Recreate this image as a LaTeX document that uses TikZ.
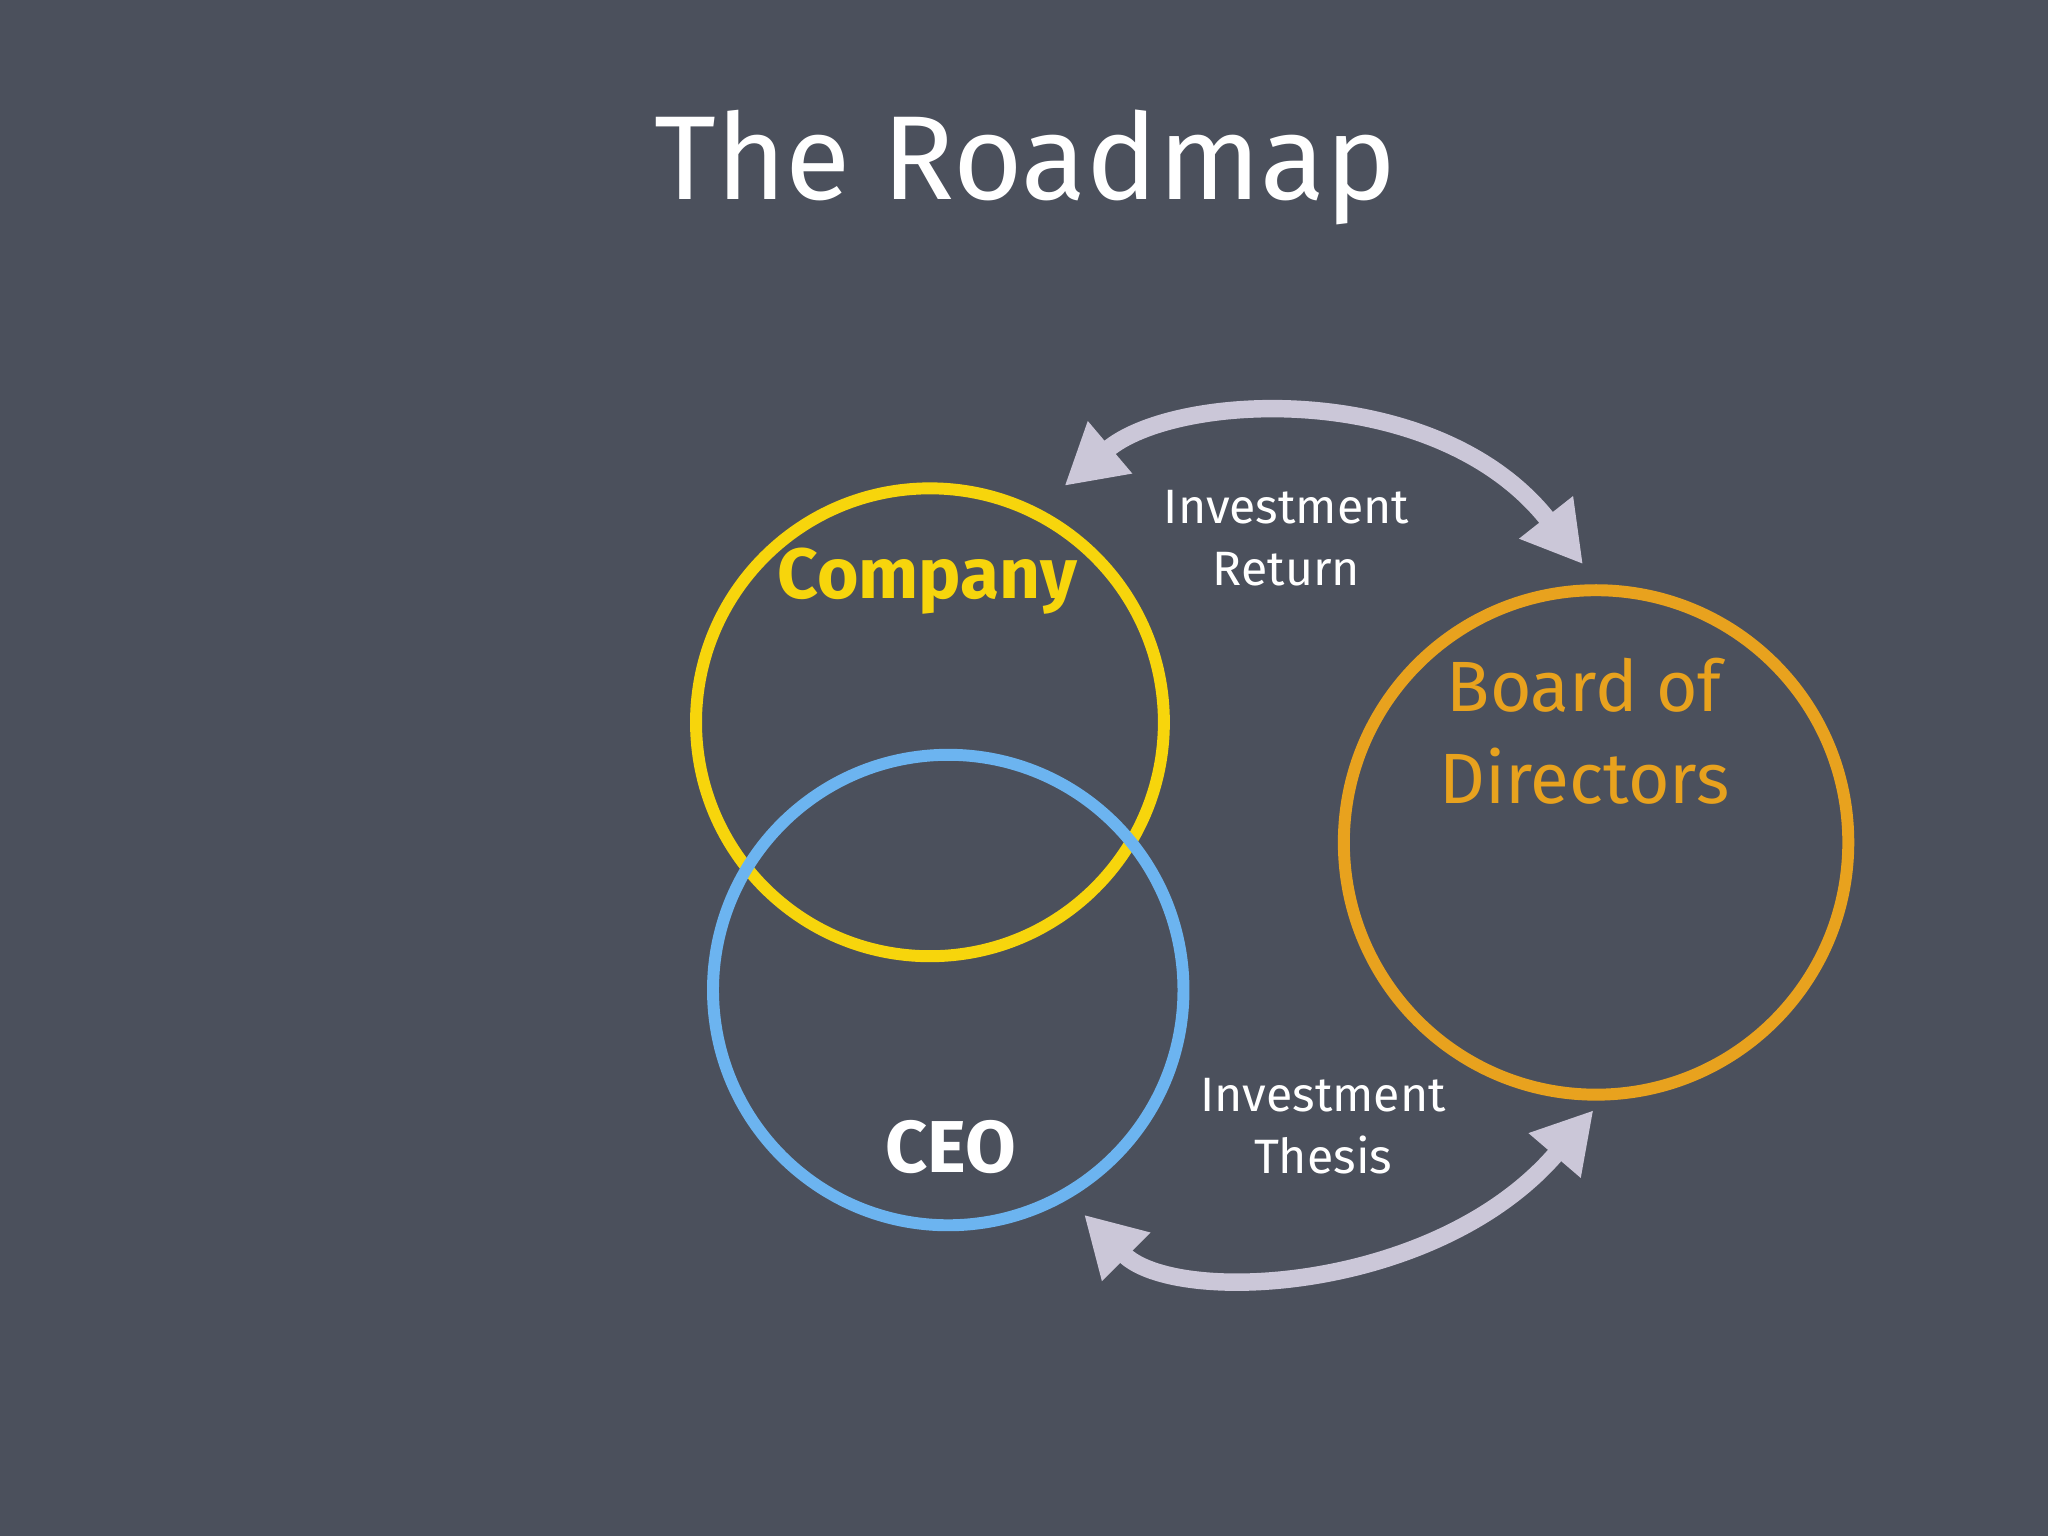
\documentclass[tikz,border=0pt]{standalone}
\usepackage{fontspec}
\setmainfont{Fira Sans}
\usetikzlibrary{arrows.meta}
\definecolor{bg}{HTML}{4B505C}
\definecolor{cyel}{HTML}{F7D50C}
\definecolor{cblue}{HTML}{6CB4F0}
\definecolor{corg}{HTML}{E8A21E}
\definecolor{carr}{HTML}{CBC7D8}
\begin{document}
\begin{tikzpicture}[x=0.01cm,y=-0.01cm,
  ring/.style={draw,line width=2.6pt,circle,inner sep=0pt},
  lab/.style={text=white,font=\fontsize{10.5}{13.5}\selectfont,align=center},
  arr/.style={draw=carr,line width=3.8pt,{Triangle[length=13pt,width=14pt]}-{Triangle[length=13pt,width=14pt]}}]
\fill[bg] (0,0) rectangle (1568,1176);
\node[text=white,font=\fontsize{26}{30}\selectfont] (title) at (785,128) {The Roadmap};
\node[ring,draw=cyel,minimum size=3.58cm] (comp) at (712,553) {};
\node[ring,draw=cblue,minimum size=3.60cm] (ceo) at (726,758) {};
\node[ring,draw=corg,minimum size=3.86cm] (board) at (1222,645) {};
\node[text=cyel,font=\bfseries\fontsize{15.5}{18}\selectfont] (tcomp) at (710,445) {Company};
\node[text=corg,font=\fontsize{15.5}{20}\selectfont,align=center] (tboard) at (1213,560) {Board of\\Directors};
\node[text=white,font=\bfseries\fontsize{16}{19}\selectfont] (tceo) at (728,878) {CEO};
\node[lab] (l1) at (985,412) {Investment\\Return};
\node[lab] (l2) at (1013,862) {Investment\\Thesis};
\coordinate (a1) at (815,372);
\coordinate (a2) at (1212,432);
\coordinate (b1) at (830,930);
\coordinate (b2) at (1220,850);
\draw[arr] (a1) .. controls (900,300) and (1100,290) .. (a2);
\draw[arr] (b1) .. controls (900,1000) and (1100,990) .. (b2);
\end{tikzpicture}
\end{document}
